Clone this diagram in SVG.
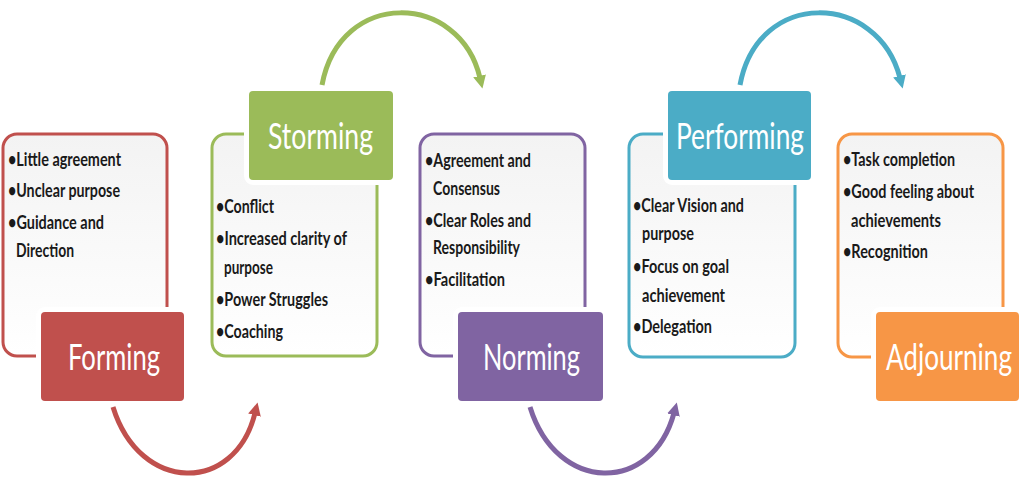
<svg xmlns="http://www.w3.org/2000/svg" width="1024" height="490" viewBox="0 0 1024 490">
<style>
.box{fill:url(#bg);stroke-width:3}
.lab{stroke:#fff;stroke-width:10;paint-order:stroke}
.lt{font-family:Lato,"Open Sans","Liberation Sans",sans-serif;font-size:36px;fill:#fff}
.bt{font-family:Lato,"Open Sans","Liberation Sans",sans-serif;font-weight:700;font-size:18px;fill:#1a1a1a}
.arc{fill:none;stroke-width:5;stroke-linecap:butt}
</style>
<defs>
<linearGradient id="bg" x1="0" y1="0" x2="0" y2="1">
<stop offset="0" stop-color="#f3f3f3"/>
<stop offset="1" stop-color="#ffffff"/>
</linearGradient>
<marker id="mR" viewBox="0 0 12 12" markerWidth="13" markerHeight="13" refX="2" refY="6" orient="auto" markerUnits="userSpaceOnUse"><path d="M0,0 L12,6 L0,12 z" fill="#C0504D"/></marker>
<marker id="mG" viewBox="0 0 12 12" markerWidth="13" markerHeight="13" refX="2" refY="6" orient="auto" markerUnits="userSpaceOnUse"><path d="M0,0 L12,6 L0,12 z" fill="#9BBB59"/></marker>
<marker id="mP" viewBox="0 0 12 12" markerWidth="13" markerHeight="13" refX="2" refY="6" orient="auto" markerUnits="userSpaceOnUse"><path d="M0,0 L12,6 L0,12 z" fill="#8064A2"/></marker>
<marker id="mB" viewBox="0 0 12 12" markerWidth="13" markerHeight="13" refX="2" refY="6" orient="auto" markerUnits="userSpaceOnUse"><path d="M0,0 L12,6 L0,12 z" fill="#4BACC6"/></marker>
</defs>
<rect width="1024" height="490" fill="#fff"/>

<g id="connectors">
<path class="arc" stroke="#C0504D" marker-end="url(#mR)" d="M113,407 C140,494 235,494 255,413"/>
<path class="arc" stroke="#9BBB59" marker-end="url(#mG)" d="M322,85 C340,-12 460,-8 480,78"/>
<path class="arc" stroke="#8064A2" marker-end="url(#mP)" d="M530,407 C557,494 652,494 674,413"/>
<path class="arc" stroke="#4BACC6" marker-end="url(#mB)" d="M740,85 C758,-12 878,-8 900,78"/>
</g>

<g id="forming">
<rect class="box" x="3" y="134" width="164" height="222" rx="14" stroke="#C0504D"/>
<text class="bt" x="8" y="166" textLength="113" lengthAdjust="spacingAndGlyphs">•Little agreement</text>
<text class="bt" x="8" y="197" textLength="112" lengthAdjust="spacingAndGlyphs">•Unclear purpose</text>
<text class="bt" x="8" y="229" textLength="96" lengthAdjust="spacingAndGlyphs">•Guidance and</text>
<text class="bt" x="16" y="257" textLength="58" lengthAdjust="spacingAndGlyphs">Direction</text>
<rect class="lab" x="41" y="312" width="143" height="89" rx="4" fill="#C0504D"/>
<text class="lt" x="68" y="370" textLength="92" lengthAdjust="spacingAndGlyphs">Forming</text>
</g>

<g id="storming">
<rect class="box" x="212" y="134" width="165" height="222" rx="14" stroke="#9BBB59"/>
<text class="bt" x="216" y="213" textLength="58" lengthAdjust="spacingAndGlyphs">•Conflict</text>
<text class="bt" x="216" y="245" textLength="131" lengthAdjust="spacingAndGlyphs">•Increased clarity of</text>
<text class="bt" x="224" y="274" textLength="49" lengthAdjust="spacingAndGlyphs">purpose</text>
<text class="bt" x="216" y="306" textLength="112" lengthAdjust="spacingAndGlyphs">•Power Struggles</text>
<text class="bt" x="216" y="338" textLength="67" lengthAdjust="spacingAndGlyphs">•Coaching</text>
<rect class="lab" x="249" y="91" width="144" height="89" rx="4" fill="#9BBB59"/>
<text class="lt" x="268" y="149" textLength="105" lengthAdjust="spacingAndGlyphs">Storming</text>
</g>

<g id="norming">
<rect class="box" x="420" y="134" width="165" height="222" rx="14" stroke="#8064A2"/>
<text class="bt" x="425" y="167" textLength="106" lengthAdjust="spacingAndGlyphs">•Agreement and</text>
<text class="bt" x="433" y="195" textLength="67" lengthAdjust="spacingAndGlyphs">Consensus</text>
<text class="bt" x="425" y="227" textLength="106" lengthAdjust="spacingAndGlyphs">•Clear Roles and</text>
<text class="bt" x="433" y="254" textLength="87" lengthAdjust="spacingAndGlyphs">Responsibility</text>
<text class="bt" x="425" y="286" textLength="80" lengthAdjust="spacingAndGlyphs">•Facilitation</text>
<rect class="lab" x="458" y="312" width="145" height="89" rx="4" fill="#8064A2"/>
<text class="lt" x="483" y="370" textLength="97" lengthAdjust="spacingAndGlyphs">Norming</text>
</g>

<g id="performing">
<rect class="box" x="629" y="134" width="166" height="223" rx="14" stroke="#4BACC6"/>
<text class="bt" x="633" y="212" textLength="111" lengthAdjust="spacingAndGlyphs">•Clear Vision and</text>
<text class="bt" x="642" y="240" textLength="52" lengthAdjust="spacingAndGlyphs">purpose</text>
<text class="bt" x="633" y="273" textLength="96" lengthAdjust="spacingAndGlyphs">•Focus on goal</text>
<text class="bt" x="642" y="302" textLength="83" lengthAdjust="spacingAndGlyphs">achievement</text>
<text class="bt" x="633" y="333" textLength="79" lengthAdjust="spacingAndGlyphs">•Delegation</text>
<rect class="lab" x="668" y="91" width="143" height="89" rx="4" fill="#4BACC6"/>
<text class="lt" x="676" y="149" textLength="128" lengthAdjust="spacingAndGlyphs">Performing</text>
</g>

<g id="adjourning">
<rect class="box" x="838" y="134" width="165" height="223" rx="14" stroke="#F79646"/>
<text class="bt" x="843" y="166" textLength="112" lengthAdjust="spacingAndGlyphs">•Task completion</text>
<text class="bt" x="843" y="198" textLength="131" lengthAdjust="spacingAndGlyphs">•Good feeling about</text>
<text class="bt" x="851" y="227" textLength="90" lengthAdjust="spacingAndGlyphs">achievements</text>
<text class="bt" x="843" y="258" textLength="85" lengthAdjust="spacingAndGlyphs">•Recognition</text>
<rect class="lab" x="876" y="312" width="143" height="89" rx="4" fill="#F79646"/>
<text class="lt" transform="translate(886,370) scale(0.75,1)" x="0" y="0" textLength="168" lengthAdjust="spacingAndGlyphs">Adjourning</text>
</g>
</svg>
